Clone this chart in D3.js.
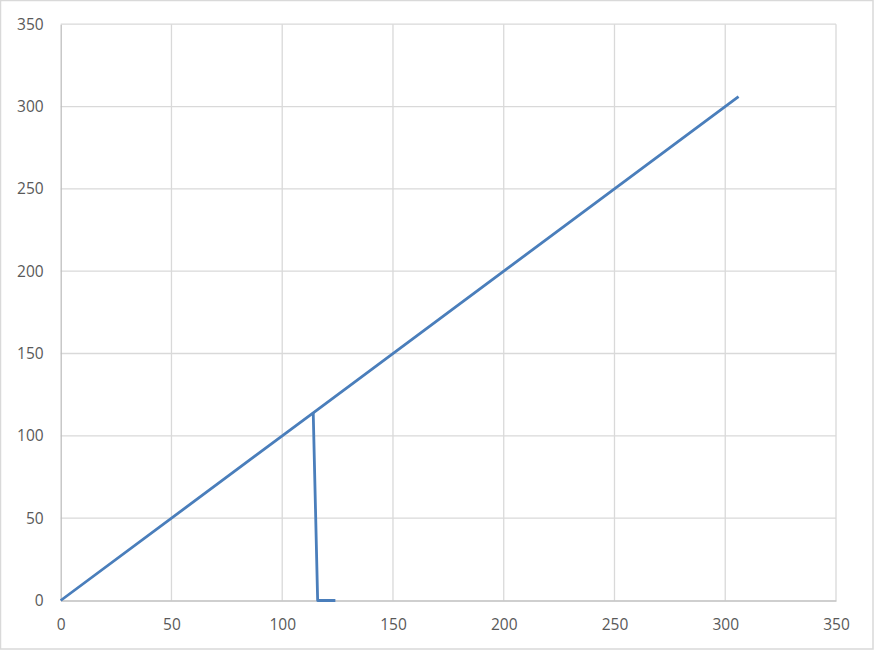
<!DOCTYPE html>
<html lang="en">
<head>
  <meta charset="utf-8" />
  <title>Scatter line</title>
  <script src="https://d3js.org/d3.v7.min.js"></script>
  <style>
    body { margin: 0; background: #fff; }
    .tick text { font-family: "Open Sans", "Liberation Sans", sans-serif; font-size: 15.5px; fill: #595959; }
  </style>
</head>
<body>
  <svg width="874" height="650"></svg>
  <script>
    // main series (y = x diagonal)
    const mainX = [0, 114, 306];
    const mainY = [0, 114, 306];
    // drop segment
    const dropX = [114, 116, 124];
    const dropY = [114, 0, 0];
    const xTicks = [0, 50, 100, 150, 200, 250, 300, 350];
    const yTicks = [0, 50, 100, 150, 200, 250, 300, 350];

    const svg = d3.select("svg");

    // chart area border
    svg.append("rect")
      .attr("x", 0.5).attr("y", 0.5)
      .attr("width", 872.5).attr("height", 648.5)
      .attr("fill", "#fff")
      .attr("stroke", "#d9d9d9")
      .attr("stroke-width", 1.5);

    const x = d3.scaleLinear().domain([0, 350]).range([60.7, 836]);
    const y = d3.scaleLinear().domain([0, 350]).range([600.5, 24.2]);

    // gridlines
    svg.append("g")
      .selectAll("line.v")
      .data(xTicks.slice(1))
      .join("line")
      .attr("x1", d => x(d)).attr("x2", d => x(d))
      .attr("y1", y(0)).attr("y2", y(350))
      .attr("stroke", "#d9d9d9").attr("stroke-width", 1.3);

    svg.append("g")
      .selectAll("line.h")
      .data(yTicks.slice(1))
      .join("line")
      .attr("x1", x(0)).attr("x2", x(350))
      .attr("y1", d => y(d)).attr("y2", d => y(d))
      .attr("stroke", "#d9d9d9").attr("stroke-width", 1.3);

    // axes
    const xAxis = svg.append("g")
      .attr("transform", `translate(0,${y(0)})`)
      .call(d3.axisBottom(x).tickValues(xTicks).tickSize(0).tickPadding(18));
    xAxis.select(".domain").attr("stroke", "#bfbfbf").attr("stroke-width", 1.3);

    const yAxis = svg.append("g")
      .attr("transform", `translate(${x(0)},0)`)
      .call(d3.axisLeft(y).tickValues(yTicks).tickSize(0).tickPadding(17));
    yAxis.select(".domain").attr("stroke", "#bfbfbf").attr("stroke-width", 1.3);

    const line = d3.line()
      .x(d => x(d[0]))
      .y(d => y(d[1]));

    const color = "#4a7ebb";

    svg.append("path")
      .datum(mainX.map((v, i) => [v, mainY[i]]))
      .attr("d", line)
      .attr("fill", "none")
      .attr("stroke", color)
      .attr("stroke-width", 2.8)
      .attr("stroke-linejoin", "round");

    svg.append("path")
      .datum(dropX.map((v, i) => [v, dropY[i]]))
      .attr("d", line)
      .attr("fill", "none")
      .attr("stroke", color)
      .attr("stroke-width", 2.8)
      .attr("stroke-linejoin", "round");
  </script>
</body>
</html>
